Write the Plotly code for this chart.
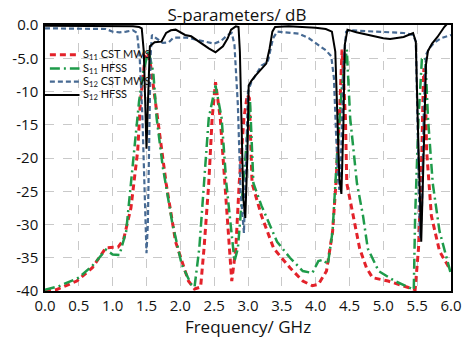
import plotly.graph_objects as go

# ---------------- data ----------------
s12_hfss_f = [0, 0.3, 0.6, 0.9, 1.1, 1.3, 1.39, 1.43, 1.46, 1.48, 1.5, 1.52, 1.55, 1.62, 1.72, 1.79, 1.86, 1.93, 2.07, 2.16, 2.3, 2.42,
              2.52, 2.63, 2.7, 2.75, 2.82, 2.86, 2.88, 2.9, 2.93, 2.96, 2.99, 3.01, 3.05, 3.11, 3.2, 3.27, 3.32, 3.36, 3.4, 3.6,
              3.8, 4.0, 4.15, 4.24, 4.29, 4.32, 4.35, 4.38, 4.41, 4.43, 4.47, 4.6, 4.8, 5.0, 5.1, 5.3, 5.44, 5.48, 5.51, 5.54,
              5.56, 5.6, 5.63, 5.66, 5.72, 5.8, 5.9, 6.0]
s12_hfss_db = [-0.1, -0.1, -0.1, -0.15, -0.2, -0.2, -0.3, -0.5, -4, -12, -18.6, -12, -3.2, -2.6, -2.5, -1.2, -0.8, -0.7, -1.5, -1.7, -2.7, -3.5,
               -4.1, -3.2, -2.0, -0.7, -0.2, -0.3, -4, -14, -26, -29, -20, -9.1, -8.4, -7.6, -6.6, -5.8, -3.5, -1.0, -0.3, -0.2,
               -0.3, -0.4, -0.6, -1.0, -4, -14, -23, -25.4, -15, -3, -0.7, -1.1, -1.6, -2.0, -2.1, -1.8, -1.2, -2.5, -15, -28,
               -32.6, -18, -6, -3.9, -2.8, -1.8, -0.3, 0.8]

s12_cst_f = [0, 0.5, 0.9, 1.0, 1.1, 1.2, 1.3, 1.36, 1.4, 1.44, 1.47, 1.5, 1.52, 1.54, 1.56, 1.58, 1.65, 1.74, 1.83, 1.9, 2.1, 2.3, 2.5,
             2.6, 2.7, 2.76, 2.8, 2.85, 2.89, 2.94, 2.97, 3.0, 3.05, 3.1, 3.2, 3.29, 3.33, 3.37, 3.43, 3.55, 3.75, 3.9, 4.05,
             4.15, 4.23, 4.27, 4.3, 4.33, 4.35, 4.38, 4.41, 4.45, 4.5, 4.7, 5.0, 5.3, 5.44, 5.48, 5.5, 5.52, 5.54, 5.57, 5.6,
             5.63, 5.68, 5.75, 5.85, 6.0]
s12_cst_db = [-0.5, -0.5, -0.6, -1.0, -1.1, -1.0, -0.8, -1.2, -5, -14, -26, -34.3, -30, -15, -4.7, -1.5, -2.0, -2.7, -2.6, -1.9, -1.9, -2.3, -2.8,
              -2.4, -1.5, -1.2, -3, -12, -25, -31.3, -22, -10, -8.6, -7.8, -6.1, -5.6, -4.0, -2.0, -1.0, -1.1, -1.3, -2.0, -3.0,
              -3.8, -4.7, -8, -16, -23, -24.8, -18, -6, -1.0, -0.8, -0.9, -1.1, -1.2, -1.5, -2.5, -12, -25, -32, -28, -12,
              -4.5, -3.5, -2.7, -2.0, -1.5]

s11_cst_f = [0, 0.17, 0.47, 0.7, 0.9, 1.0, 1.08, 1.16, 1.27, 1.37, 1.41, 1.48, 1.52, 1.56, 1.6, 1.67, 1.79, 1.93, 2.12, 2.21, 2.3, 2.35,
             2.42, 2.47, 2.52, 2.59, 2.66, 2.73, 2.76, 2.82, 2.87, 2.94, 2.99, 3.02, 3.06, 3.2, 3.38, 3.62, 3.81, 3.95, 4.04,
             4.16, 4.25, 4.3, 4.35, 4.39, 4.44, 4.46, 4.56, 4.65, 4.75, 4.84, 5.07, 5.36, 5.47, 5.52, 5.57, 5.59, 5.6, 5.62,
             5.64, 5.71, 5.83, 6.0]
s11_cst_db = [-40, -39.8, -38.5, -36.5, -33.5, -33.4, -33.4, -32.3, -27.5, -18.9, -11.5, -4.7, -4.2, -6, -9.1, -15, -23.8, -32.6, -38.5, -39.7,
              -39.4, -33.6, -23.8, -14, -8.6, -14, -23.8, -33.6, -38.5, -33.6, -23.8, -14, -10.5, -11, -23.8, -28.7, -33.6,
              -36.5, -38.5, -39.2, -39, -37, -31.1, -23.8, -14, -3.7, -14, -23.8, -28.7, -33.6, -36.5, -38, -38.5, -39.4,
              -39.8, -33.6, -18.9, -9.1, -6.5, -9, -18.9, -28.7, -34, -37]

s11_hfss_f = [0, 0.2, 0.5, 0.7, 0.9, 1.0, 1.1, 1.2, 1.27, 1.34, 1.39, 1.46, 1.53, 1.6, 1.65, 1.74, 1.88, 2.02, 2.16, 2.21, 2.28, 2.35,
              2.42, 2.52, 2.61, 2.68, 2.75, 2.8, 2.85, 2.89, 2.96, 3.01, 3.03, 3.08, 3.2, 3.43, 3.62, 3.81, 3.95, 4.04, 4.11,
              4.18, 4.25, 4.32, 4.39, 4.46, 4.51, 4.61, 4.7, 4.77, 4.93, 5.17, 5.45, 5.47, 5.52, 5.57, 5.62, 5.66, 5.73, 5.83,
              5.97, 6.0]
s11_hfss_db = [-39.8, -39.3, -38.0, -36.2, -33.8, -34.5, -34.6, -31, -23.8, -16.4, -11.5, -6.6, -3.9, -7.1, -14, -21.3, -29.7, -36, -39, -39.4,
               -33.6, -23.8, -14, -9.1, -14, -23.8, -31, -35.5, -33.6, -28.7, -21.3, -14, -11.5, -23.8, -27.2, -32.6, -35,
               -37, -37.3, -35.5, -35.3, -36, -31, -18.9, -9, -3.7, -14, -23.8, -28.7, -33.6, -37, -38.5, -39.8, -28.7, -14,
               -5.1, -4.9, -14, -23.8, -31, -36.5, -37.5]

series_names = ["S<sub>11</sub> CST MWS", "S<sub>11</sub> HFSS", "S<sub>12</sub> CST MWS", "S<sub>12</sub> HFSS"]

x_ticks = [0.0, 0.5, 1.0, 1.5, 2.0, 2.5, 3.0, 3.5, 4.0, 4.5, 5.0, 5.5, 6.0]
y_ticks = [0, -5, -10, -15, -20, -25, -30, -35, -40]
y_tick_labels = ["0.0", "-5.0", "-10", "-15", "-20", "-25", "-30", "-35", "-40"]

FONT = "Open Sans"
LEG_FONT = "Lato"

styles = [
    dict(color="#e3222a", width=3, dash="6px,4px"),
    dict(color="#1e9b4a", width=2.5, dash="10px,4px,2px,4px"),
    dict(color="#476a93", width=2.2, dash="5px,3px"),
    dict(color="#000000", width=2),
]
data = [(s11_cst_f, s11_cst_db), (s11_hfss_f, s11_hfss_db), (s12_cst_f, s12_cst_db), (s12_hfss_f, s12_hfss_db)]

fig = go.Figure()
for (fx, fy), name, st in zip(data, series_names, styles):
    fig.add_trace(go.Scatter(x=fx, y=fy, mode="lines", name=name, line=st, showlegend=False))

# compact legend drawn in paper coordinates (inside top-left of the plot)
leg_rows_y = [0.888, 0.836, 0.787, 0.737]
leg_x0 = [0.012, 0.012, 0.012, 0.0]
shapes = []
annotations = []
for name, st, yy, x0 in zip(series_names, styles, leg_rows_y, leg_x0):
    shapes.append(dict(type="line", xref="paper", yref="paper", x0=x0, x1=0.085, y0=yy, y1=yy,
                       line=dict(color=st["color"], width=st["width"], dash=st.get("dash", "solid"))))
    annotations.append(dict(text=name, xref="paper", yref="paper", x=0.088, y=yy, xanchor="left", yanchor="middle",
                            showarrow=False, font=dict(size=11, family=LEG_FONT, color="#111111")))

fig.update_layout(
    width=474, height=345,
    margin=dict(l=33, r=14, t=25, b=48),
    paper_bgcolor="white", plot_bgcolor="white",
    font=dict(family=FONT, color="#111111"),
    title=dict(text="S-parameters/ dB", x=0.5, xanchor="center", y=0.975, yanchor="top",
               font=dict(size=17, family=FONT, color="#111111")),
    showlegend=False,
    shapes=shapes,
    annotations=annotations,
)
fig.update_xaxes(range=[0, 6], tickvals=x_ticks, tickformat=".1f",
                 showgrid=True, gridcolor="#c9c9c9", griddash="dash", gridwidth=1,
                 showline=True, linecolor="black", linewidth=1.5, mirror=True,
                 ticks="", zeroline=False, tickfont=dict(size=15, family=FONT),
                 title=dict(text="Frequency/ GHz", font=dict(size=17, family=FONT), standoff=6))
fig.update_yaxes(range=[-40, 0], tickvals=y_ticks, ticktext=y_tick_labels,
                 showgrid=True, gridcolor="#c9c9c9", griddash="dash", gridwidth=1,
                 showline=True, linecolor="black", linewidth=1.5, mirror=True,
                 ticks="", zeroline=False, tickfont=dict(size=15, family=FONT), ticklabelstandoff=2)

fig.write_html("out.html")
